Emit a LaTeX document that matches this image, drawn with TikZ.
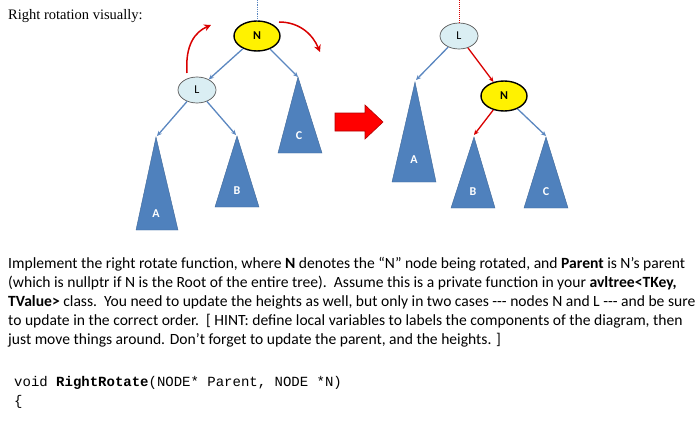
\documentclass[tikz,border=0pt]{standalone}
\usepackage{fontspec}
\setmainfont{Carlito}
\newfontfamily\timesf{Liberation Serif}
\setmonofont{Liberation Mono}
\usetikzlibrary{arrows.meta,shapes.arrows,shapes.geometric}
\definecolor{tri}{HTML}{4F81BD}
\definecolor{edge}{HTML}{5B87C0}
\definecolor{lnode}{HTML}{DAEEF3}
\begin{document}
\begin{tikzpicture}[x=1pt,y=-1pt,
  tree/.style={fill=tri,draw=tri!80!black,line width=0.4pt},
  tlab/.style={text=white,font=\bfseries\fontsize{12}{14}\selectfont},
  bedge/.style={draw=edge,line width=1.3pt,-{Stealth[length=5pt,width=4.5pt]}},
  redge/.style={draw=red!85!black,line width=1.3pt,-{Stealth[length=5pt,width=4.5pt]}},
  curv/.style={draw=red!85!black,line width=1.5pt,-{Stealth[length=7pt,width=7pt]}},
  nnode/.style={ellipse,fill=yellow,draw=black,line width=1.4pt,minimum width=46pt,minimum height=30pt,inner sep=0pt,font=\bfseries\fontsize{12}{14}\selectfont},
  lnodes/.style={ellipse,fill=lnode,draw=gray!70!black,line width=0.7pt,minimum width=38pt,minimum height=26pt,inner sep=0pt,font=\fontsize{12}{14}\selectfont},
  para/.style={anchor=base west,inner sep=0pt,font=\fontsize{15.6}{18}\selectfont}]
\useasboundingbox (0,0) rectangle (700,425);
\node[anchor=base west,inner sep=0pt,font=\timesf\fontsize{14.5}{17}\selectfont] (title) at (8,20) {Right rotation visually:};
% left diagram
\fill[tree] (156,137) -- (178,230) -- (136,230) -- cycle;
\fill[tree] (237,136) -- (259,207) -- (215,207) -- cycle;
\fill[tree] (298,77) -- (322,153) -- (278,153) -- cycle;
\node[tlab] (ta) at (156,214) {A};
\node[tlab] (tb) at (237,191) {B};
\node[tlab] (tc) at (299,136) {C};
\coordinate (aA) at (157,136);
\coordinate (aB) at (236,135);
\coordinate (aC) at (298,77);
\coordinate (top1) at (257,0);
\node[nnode] (N1) at (257,36) {N};
\node[lnodes] (L1) at (197,90) {L};
\draw[densely dotted,edge,line width=0.8pt] (top1) -- (N1.north);
\draw[bedge] (N1) -- (L1);
\draw[bedge] (N1) -- (aC);
\draw[bedge] (L1) -- (aA);
\draw[bedge] (L1) -- (aB);
\coordinate (c1s) at (187,73);
\coordinate (c1e) at (211,25);
\coordinate (c2s) at (279,22);
\coordinate (c2e) at (320,52);
\draw[curv] (c1s) .. controls (185,45) and (195,32) .. (c1e);
\draw[curv] (c2s) .. controls (300,22) and (313,35) .. (c2e);
% big arrow
\fill[red,draw=red!70!black,line width=0.6pt] (335,113) -- (365,113) -- (365,105) -- (383,122) -- (365,139) -- (365,131) -- (335,131) -- cycle;
% right diagram
\fill[tree] (415,82) -- (436,182) -- (392,182) -- cycle;
\fill[tree] (474,137) -- (495,208) -- (451,208) -- cycle;
\fill[tree] (546,137) -- (568,208) -- (524,208) -- cycle;
\node[tlab] (ta2) at (414,160) {A};
\node[tlab] (tb2) at (473,192) {B};
\node[tlab] (tc2) at (546,192) {C};
\coordinate (bA) at (416,80);
\coordinate (bB) at (474,135);
\coordinate (bC) at (546,136);
\coordinate (top2) at (459,0);
\node[lnodes] (L2) at (459,36) {L};
\node[nnode] (N2) at (504,96) {N};
\draw[densely dotted,red!85!black,line width=1pt] (top2) -- (L2.north);
\draw[bedge] (L2) -- (bA);
\draw[redge] (L2) -- (N2);
\draw[redge] (N2) -- (bB);
\draw[bedge] (N2) -- (bC);
% text
\node[para] (p1) at (8,268) {Implement the right rotate function, where \textbf{N} denotes the “N” node being rotated, and \textbf{Parent} is N’s parent};
\node[para] (p2) at (8,287) {(which is nullptr if N is the Root of the entire tree).\ \ Assume this is a private function in your \textbf{avltree<TKey,}};
\node[para] (p3) at (8,306) {\textbf{TValue>} class.\ \ You need to update the heights as well, but only in two cases -{}-{}- nodes N and L -{}-{}- and be sure};
\node[para] (p4) at (8,325) {to update in the correct order.\ \ [ HINT: define local variables to labels the components of the diagram, then};
\node[para] (p5) at (8,344) {just move things around. Don’t forget to update the parent, and the heights. ]};
\node[anchor=base west,inner sep=0pt,font=\ttfamily\fontsize{14}{16}\selectfont] (code1) at (14,386) {void \textbf{RightRotate}(NODE* Parent, NODE *N)};
\node[anchor=base west,inner sep=0pt,font=\ttfamily\fontsize{14}{16}\selectfont] (code2) at (14,405) {\{};
\end{tikzpicture}
\end{document}
